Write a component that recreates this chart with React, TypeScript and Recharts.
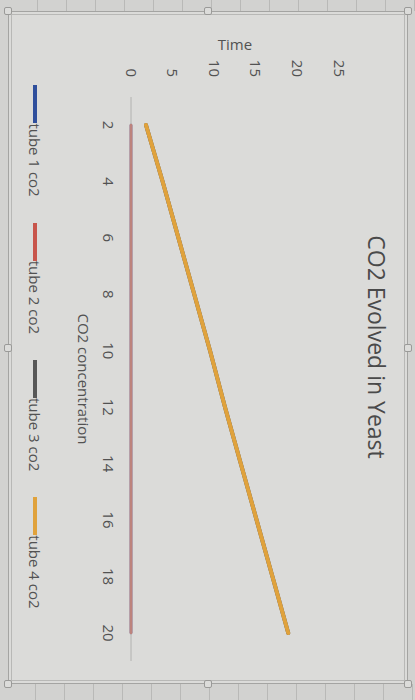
import React from 'react';
import { LineChart, Line, XAxis, YAxis, Legend } from 'recharts';

const categories = ['2', '4', '6', '8', '10', '12', '14', '16', '18', '20'];
const tube1 = [0, 0, 0, 0, 0, 0, 0, 0, 0, 0];
const tube2 = [0, 0, 0, 0, 0, 0, 0, 0, 0, 0];
const tube3 = [1.8, 3.8, 5.7, 7.6, 9.5, 11.3, 13.2, 15.1, 17.0, 18.9];
const tube4 = [1.8, 3.8, 5.7, 7.6, 9.5, 11.3, 13.2, 15.1, 17.0, 18.9];
const timeTicks = [0, 5, 10, 15, 20, 25];

const data = categories.map((c, i) => ({
  conc: c,
  t1: tube1[i],
  t2: tube2[i],
  t3: tube3[i],
  t4: tube4[i],
}));

const W = 672;
const H = 398;
const TEXT = '#525252';

const TimeLabel = (props: any) => {
  const vb = props.viewBox || { x: 0, y: 69, height: 208 };
  const cx = vb.x + 39;
  const cy = vb.y + vb.height / 2;
  return (
    <text x={cx} y={cy} transform={`rotate(-90 ${cx} ${cy})`} textAnchor="middle" fill={TEXT} fontSize={15}>
      Time
    </text>
  );
};

const LegendContent = (props: any) => {
  const payload = props.payload || [];
  return (
    <div style={{ display: 'flex', justifyContent: 'center', alignItems: 'center', height: 20, gap: 26 }}>
      {payload.map((p: any) => (
        <div key={p.value} style={{ display: 'flex', alignItems: 'center' }}>
          <span style={{ display: 'inline-block', width: 38, height: 3.5, background: p.color }} />
          <span style={{ fontSize: 15, color: TEXT, lineHeight: '20px' }}>{p.value}</span>
        </div>
      ))}
    </div>
  );
};

const handle = (x: number, y: number) => (
  <div
    key={`${x}-${y}`}
    style={{
      position: 'absolute',
      left: x - 4,
      top: y - 4,
      width: 8,
      height: 8,
      background: '#dcdcda',
      border: '1px solid #9a9a98',
      borderRadius: 2,
      boxSizing: 'border-box',
    }}
  />
);

export default function App() {
  const L = 8, T = 11, R = 408, B = 684;
  return (
    <div
      style={{
        position: 'fixed',
        left: 0,
        top: 0,
        width: 415,
        height: 700,
        background: '#d2d2d0',
        overflow: 'hidden',
        fontFamily: '"Open Sans", sans-serif',
      }}
    >
      <div
        style={{
          position: 'absolute', left: 0, top: 0, width: 415, height: T,
          backgroundImage: 'repeating-linear-gradient(90deg, transparent 0px, transparent 28px, #b9b9b7 28px, #b9b9b7 29px)',
          backgroundPosition: '9px 0',
        }}
      />
      <div
        style={{
          position: 'absolute', left: 0, top: B, width: 415, height: 700 - B,
          backgroundImage: 'repeating-linear-gradient(90deg, transparent 0px, transparent 28px, #b9b9b7 28px, #b9b9b7 29px)',
          backgroundPosition: '7px 0',
        }}
      />
      <div
        style={{
          position: 'absolute', left: L, top: T, width: R - L, height: B - T,
          background: '#dbdbd9', border: '1px solid #a4a4a2', boxSizing: 'border-box',
        }}
      />
      <div
        style={{
          position: 'absolute', left: L + 3, top: T + 3, width: R - L - 6, height: B - T - 6,
          border: '1px solid #b8b8b6', boxSizing: 'border-box',
        }}
      />
      {[handle(L, T), handle((L + R) / 2, T), handle(R, T), handle(L, (T + B) / 2), handle(R, (T + B) / 2), handle(L, B), handle((L + R) / 2, B), handle(R, B)]}

      <div
        style={{
          position: 'absolute',
          left: R,
          top: T,
          width: W,
          height: H,
          transformOrigin: '0 0',
          transform: 'rotate(90deg)',
        }}
      >
        <div
          style={{
            position: 'absolute', left: 0, top: 20, width: W, textAlign: 'center',
            fontSize: 23, lineHeight: '23px', color: '#4a4a4a',
          }}
        >
          CO2 Evolved in Yeast
        </div>
        <LineChart width={W} height={H} data={data} margin={{ top: 69, right: 22, left: 0, bottom: 0 }}>
          <XAxis
            dataKey="conc"
            height={121}
            padding={{ left: 28, right: 28 }}
            interval={0}
            tickLine={false}
            tickSize={0}
            tickMargin={17}
            axisLine={{ stroke: '#b2b2b0', strokeWidth: 1 }}
            tick={{ fill: TEXT, fontSize: 15 }}
            label={{ value: 'CO2 concentration', position: 'insideTop', offset: 42, fill: TEXT, fontSize: 15 }}
          />
          <YAxis
            type="number"
            width={86}
            domain={[0, 25]}
            ticks={timeTicks}
            axisLine={false}
            tickLine={false}
            tickSize={0}
            tickMargin={20}
            tick={{ fill: TEXT, fontSize: 15 }}
            label={{ content: TimeLabel }}
          />
          <Legend
            verticalAlign="middle"
            align="center"
            content={LegendContent}
            wrapperStyle={{ top: 363, left: 0, width: W, height: 20 }}
          />
          <Line type="linear" dataKey="t1" name="tube 1 co2" stroke="#2f4f9c" strokeWidth={2.5} dot={false} isAnimationActive={false} strokeLinecap="round" />
          <Line type="linear" dataKey="t2" name="tube 2 co2" stroke="#c8554b" strokeWidth={2.5} dot={false} isAnimationActive={false} strokeLinecap="round" />
          <Line type="linear" dataKey="t3" name="tube 3 co2" stroke="#575757" strokeWidth={4} dot={false} isAnimationActive={false} strokeLinecap="round" />
          <Line type="linear" dataKey="t4" name="tube 4 co2" stroke="#e0a23c" strokeWidth={4} dot={false} isAnimationActive={false} strokeLinecap="round" />
        </LineChart>
      </div>
    </div>
  );
}
